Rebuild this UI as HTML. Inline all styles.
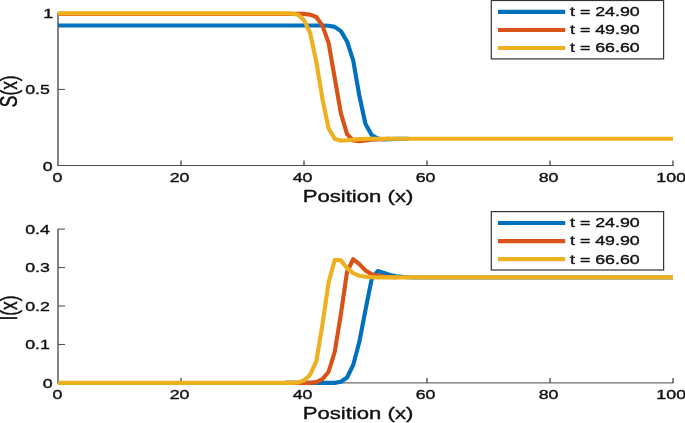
<!DOCTYPE html>
<html><head><meta charset="utf-8"><title>Plot</title>
<style>html,body{margin:0;padding:0;background:#fff;overflow:hidden}svg{display:block}</style></head>
<body>
<svg width="685" height="423" viewBox="0 0 685 423" font-family="'Liberation Sans', sans-serif" fill="#111111">
<style>text{stroke:#111111;stroke-width:0.38px;stroke-linejoin:round}</style>
<rect width="685" height="423" fill="#fff"/>
<line x1="58.00" y1="12.80" x2="58.00" y2="166.00" stroke="#4a4a4a" stroke-width="1.35"/>
<line x1="57.40" y1="165.50" x2="673.60" y2="165.50" stroke="#4a4a4a" stroke-width="1"/>
<text transform="translate(57.40,182.10) scale(1.300,1)" text-anchor="middle" font-size="13.70">0</text>
<line x1="181.00" y1="165.50" x2="181.00" y2="160.50" stroke="#4a4a4a" stroke-width="1.35"/>
<text transform="translate(179.60,182.10) scale(1.300,1)" text-anchor="middle" font-size="13.70">20</text>
<line x1="304.00" y1="165.50" x2="304.00" y2="160.50" stroke="#4a4a4a" stroke-width="1.35"/>
<text transform="translate(302.60,182.10) scale(1.300,1)" text-anchor="middle" font-size="13.70">40</text>
<line x1="427.00" y1="165.50" x2="427.00" y2="160.50" stroke="#4a4a4a" stroke-width="1.35"/>
<text transform="translate(425.60,182.10) scale(1.300,1)" text-anchor="middle" font-size="13.70">60</text>
<line x1="550.00" y1="165.50" x2="550.00" y2="160.50" stroke="#4a4a4a" stroke-width="1.35"/>
<text transform="translate(548.60,182.10) scale(1.300,1)" text-anchor="middle" font-size="13.70">80</text>
<line x1="673.00" y1="165.50" x2="673.00" y2="160.50" stroke="#4a4a4a" stroke-width="1.35"/>
<text transform="translate(671.20,182.10) scale(1.300,1)" text-anchor="middle" font-size="13.70">100</text>
<text transform="translate(52.70,170.90) scale(1.300,1)" text-anchor="end" font-size="13.70">0</text>
<line x1="58.00" y1="89.40" x2="65.00" y2="89.40" stroke="#4a4a4a" stroke-width="1"/>
<text transform="translate(49.90,94.10) scale(1.300,1)" text-anchor="end" font-size="13.70">0.5</text>
<line x1="58.00" y1="13.30" x2="65.00" y2="13.30" stroke="#4a4a4a" stroke-width="1"/>
<text transform="translate(53.20,18.00) scale(1.300,1)" text-anchor="end" font-size="13.70">1</text>
<polyline points="58.00,25.52 64.15,25.52 70.30,25.52 76.45,25.52 82.60,25.52 88.75,25.52 94.90,25.52 101.05,25.52 107.20,25.52 113.35,25.52 119.50,25.52 125.65,25.52 131.80,25.52 137.95,25.52 144.10,25.52 150.25,25.52 156.40,25.52 162.55,25.52 168.70,25.52 174.85,25.52 181.00,25.52 187.15,25.52 193.30,25.52 199.45,25.52 205.60,25.52 211.75,25.52 217.90,25.52 224.05,25.52 230.20,25.52 236.35,25.52 242.50,25.52 248.65,25.52 254.80,25.52 260.95,25.52 267.10,25.52 273.25,25.52 279.40,25.52 285.55,25.52 291.70,25.52 297.85,25.52 304.00,25.52 310.15,25.52 316.30,25.52 322.45,25.52 328.60,25.70 334.75,26.85 340.90,31.11 347.05,41.46 353.20,60.48 359.35,95.79 365.50,123.95 371.65,135.06 377.80,138.56 383.95,139.44 390.10,139.17 396.25,138.76 402.40,138.71 408.55,138.71" fill="none" stroke="#0072BD" stroke-width="4.15" stroke-linejoin="round" stroke-linecap="butt"/>
<polyline points="58.00,13.83 64.15,13.83 70.30,13.83 76.45,13.83 82.60,13.83 88.75,13.83 94.90,13.83 101.05,13.83 107.20,13.83 113.35,13.83 119.50,13.83 125.65,13.83 131.80,13.83 137.95,13.83 144.10,13.83 150.25,13.83 156.40,13.83 162.55,13.83 168.70,13.83 174.85,13.83 181.00,13.83 187.15,13.83 193.30,13.83 199.45,13.83 205.60,13.83 211.75,13.83 217.90,13.83 224.05,13.83 230.20,13.83 236.35,13.83 242.50,13.83 248.65,13.83 254.80,13.83 260.95,13.83 267.10,13.83 273.25,13.83 279.40,13.83 285.55,13.83 291.70,13.83 297.85,13.83 304.00,13.94 310.15,14.64 316.30,17.00 322.45,25.63 328.60,42.83 334.75,78.14 340.90,113.45 347.05,134.15 353.20,140.54 359.35,141.15 365.50,140.54 371.65,139.78 377.80,139.32 383.95,139.02 390.10,138.71" fill="none" stroke="#D95319" stroke-width="4.15" stroke-linejoin="round" stroke-linecap="butt"/>
<polyline points="58.00,13.30 64.15,13.30 70.30,13.30 76.45,13.30 82.60,13.30 88.75,13.30 94.90,13.30 101.05,13.30 107.20,13.30 113.35,13.30 119.50,13.30 125.65,13.30 131.80,13.30 137.95,13.30 144.10,13.30 150.25,13.30 156.40,13.30 162.55,13.30 168.70,13.30 174.85,13.30 181.00,13.30 187.15,13.30 193.30,13.30 199.45,13.30 205.60,13.30 211.75,13.30 217.90,13.30 224.05,13.30 230.20,13.30 236.35,13.30 242.50,13.30 248.65,13.30 254.80,13.30 260.95,13.30 267.10,13.30 273.25,13.30 279.40,13.30 285.55,13.30 291.70,13.60 297.85,14.67 304.00,20.00 310.15,33.24 316.30,61.70 322.45,98.84 328.60,128.47 334.75,138.83 340.90,140.69 347.05,140.23 353.20,139.63 359.35,139.17 365.50,138.87 371.65,138.71 377.80,138.71 383.95,138.71 390.10,138.71 396.25,138.71 402.40,138.71 408.55,138.71 414.70,138.71 420.85,138.71 427.00,138.71 433.15,138.71 439.30,138.71 445.45,138.71 451.60,138.71 457.75,138.71 463.90,138.71 470.05,138.71 476.20,138.71 482.35,138.71 488.50,138.71 494.65,138.71 500.80,138.71 506.95,138.71 513.10,138.71 519.25,138.71 525.40,138.71 531.55,138.71 537.70,138.71 543.85,138.71 550.00,138.71 556.15,138.71 562.30,138.71 568.45,138.71 574.60,138.71 580.75,138.71 586.90,138.71 593.05,138.71 599.20,138.71 605.35,138.71 611.50,138.71 617.65,138.71 623.80,138.71 629.95,138.71 636.10,138.71 642.25,138.71 648.40,138.71 654.55,138.71 660.70,138.71 666.85,138.71 673.00,138.71" fill="none" stroke="#EDB120" stroke-width="4.15" stroke-linejoin="round" stroke-linecap="butt"/>
<text transform="translate(358.00,201.90) scale(1.280,1)" text-anchor="middle" font-size="17.30">Position (x)</text>
<text transform="translate(17.0,91.3) rotate(-90) scale(1,1.330)" text-anchor="middle" font-size="17.30">S(x)</text>
<line x1="58.00" y1="228.64" x2="58.00" y2="383.40" stroke="#4a4a4a" stroke-width="1.35"/>
<line x1="57.40" y1="382.90" x2="673.60" y2="382.90" stroke="#4a4a4a" stroke-width="1"/>
<text transform="translate(57.40,399.20) scale(1.300,1)" text-anchor="middle" font-size="13.70">0</text>
<line x1="181.00" y1="382.90" x2="181.00" y2="377.90" stroke="#4a4a4a" stroke-width="1.35"/>
<text transform="translate(179.60,399.20) scale(1.300,1)" text-anchor="middle" font-size="13.70">20</text>
<line x1="304.00" y1="382.90" x2="304.00" y2="377.90" stroke="#4a4a4a" stroke-width="1.35"/>
<text transform="translate(302.60,399.20) scale(1.300,1)" text-anchor="middle" font-size="13.70">40</text>
<line x1="427.00" y1="382.90" x2="427.00" y2="377.90" stroke="#4a4a4a" stroke-width="1.35"/>
<text transform="translate(425.60,399.20) scale(1.300,1)" text-anchor="middle" font-size="13.70">60</text>
<line x1="550.00" y1="382.90" x2="550.00" y2="377.90" stroke="#4a4a4a" stroke-width="1.35"/>
<text transform="translate(548.60,399.20) scale(1.300,1)" text-anchor="middle" font-size="13.70">80</text>
<line x1="673.00" y1="382.90" x2="673.00" y2="377.90" stroke="#4a4a4a" stroke-width="1.35"/>
<text transform="translate(671.20,399.20) scale(1.300,1)" text-anchor="middle" font-size="13.70">100</text>
<text transform="translate(52.70,387.90) scale(1.300,1)" text-anchor="end" font-size="13.70">0</text>
<line x1="58.00" y1="344.46" x2="65.00" y2="344.46" stroke="#4a4a4a" stroke-width="1"/>
<text transform="translate(49.90,349.16) scale(1.300,1)" text-anchor="end" font-size="13.70">0.1</text>
<line x1="58.00" y1="306.02" x2="65.00" y2="306.02" stroke="#4a4a4a" stroke-width="1"/>
<text transform="translate(49.90,310.72) scale(1.300,1)" text-anchor="end" font-size="13.70">0.2</text>
<line x1="58.00" y1="267.58" x2="65.00" y2="267.58" stroke="#4a4a4a" stroke-width="1"/>
<text transform="translate(49.90,272.28) scale(1.300,1)" text-anchor="end" font-size="13.70">0.3</text>
<line x1="58.00" y1="229.14" x2="65.00" y2="229.14" stroke="#4a4a4a" stroke-width="1"/>
<text transform="translate(49.90,233.84) scale(1.300,1)" text-anchor="end" font-size="13.70">0.4</text>
<polyline points="285.55,382.90 291.70,382.90 297.85,382.90 304.00,382.90 310.15,382.90 316.30,382.90 322.45,382.90 328.60,382.90 334.75,382.90 340.90,381.75 347.05,377.52 353.20,365.03 359.35,341.77 365.50,309.86 371.65,279.11 377.80,271.08 383.95,272.96 390.10,275.08 396.25,276.23 402.40,276.88 408.55,277.27 414.70,277.46 420.85,277.46 427.00,277.46 433.15,277.46 439.30,277.46 445.45,277.46 451.60,277.46 457.75,277.46 463.90,277.46 470.05,277.46 476.20,277.46 482.35,277.46 488.50,277.46 494.65,277.46 500.80,277.46 506.95,277.46 513.10,277.46 519.25,277.46 525.40,277.46 531.55,277.46 537.70,277.46 543.85,277.46 550.00,277.46 556.15,277.46 562.30,277.46 568.45,277.46 574.60,277.46 580.75,277.46 586.90,277.46 593.05,277.46 599.20,277.46 605.35,277.46 611.50,277.46 617.65,277.46 623.80,277.46 629.95,277.46 636.10,277.46 642.25,277.46 648.40,277.46 654.55,277.46 660.70,277.46 666.85,277.46 673.00,277.46" fill="none" stroke="#0072BD" stroke-width="4.15" stroke-linejoin="round" stroke-linecap="butt"/>
<polyline points="285.55,382.90 291.70,382.90 297.85,382.90 304.00,382.90 310.15,382.90 316.30,382.13 322.45,379.06 328.60,371.75 334.75,351.76 340.90,314.09 347.05,271.81 353.20,259.24 359.35,264.12 365.50,270.46 371.65,274.31 377.80,275.84 383.95,276.61 390.10,277.00 396.25,277.31" fill="none" stroke="#D95319" stroke-width="4.15" stroke-linejoin="round" stroke-linecap="butt"/>
<polyline points="58.00,382.90 64.15,382.90 70.30,382.90 76.45,382.90 82.60,382.90 88.75,382.90 94.90,382.90 101.05,382.90 107.20,382.90 113.35,382.90 119.50,382.90 125.65,382.90 131.80,382.90 137.95,382.90 144.10,382.90 150.25,382.90 156.40,382.90 162.55,382.90 168.70,382.90 174.85,382.90 181.00,382.90 187.15,382.90 193.30,382.90 199.45,382.90 205.60,382.90 211.75,382.90 217.90,382.90 224.05,382.90 230.20,382.90 236.35,382.90 242.50,382.90 248.65,382.90 254.80,382.90 260.95,382.90 267.10,382.90 273.25,382.90 279.40,382.90 285.55,382.90 291.70,382.90 297.85,382.52 304.00,380.59 310.15,374.64 316.30,361.37 322.45,324.47 328.60,282.57 334.75,259.82 340.90,260.20 347.05,268.16 353.20,273.15 359.35,275.81 365.50,276.81 371.65,277.15 377.80,277.31 383.95,277.31 390.10,277.31 396.25,277.31 402.40,277.31 408.55,277.31 414.70,277.31 420.85,277.31 427.00,277.31 433.15,277.31 439.30,277.31 445.45,277.31 451.60,277.31 457.75,277.31 463.90,277.31 470.05,277.31 476.20,277.31 482.35,277.31 488.50,277.31 494.65,277.31 500.80,277.31 506.95,277.31 513.10,277.31 519.25,277.31 525.40,277.31 531.55,277.31 537.70,277.31 543.85,277.31 550.00,277.31 556.15,277.31 562.30,277.31 568.45,277.31 574.60,277.31 580.75,277.31 586.90,277.31 593.05,277.31 599.20,277.31 605.35,277.31 611.50,277.31 617.65,277.31 623.80,277.31 629.95,277.31 636.10,277.31 642.25,277.31 648.40,277.31 654.55,277.31 660.70,277.31 666.85,277.31 673.00,277.31" fill="none" stroke="#EDB120" stroke-width="4.15" stroke-linejoin="round" stroke-linecap="butt"/>
<text transform="translate(358.00,419.00) scale(1.280,1)" text-anchor="middle" font-size="17.30">Position (x)</text>
<text transform="translate(17.0,308.0) rotate(-90) scale(1,1.330)" text-anchor="middle" font-size="17.30">I(x)</text>
<rect x="491.30" y="0.50" width="172.30" height="58.40" fill="#fff" stroke="#333" stroke-width="1.2"/>
<line x1="497.9" y1="11.90" x2="565.2" y2="11.90" stroke="#0072BD" stroke-width="4.15"/>
<text transform="translate(570.00,16.30) scale(1.300,1)" text-anchor="start" font-size="13.70">t = 24.90</text>
<line x1="497.9" y1="29.95" x2="565.2" y2="29.95" stroke="#D95319" stroke-width="4.15"/>
<text transform="translate(570.00,34.35) scale(1.300,1)" text-anchor="start" font-size="13.70">t = 49.90</text>
<line x1="497.9" y1="48.00" x2="565.2" y2="48.00" stroke="#EDB120" stroke-width="4.15"/>
<text transform="translate(570.00,52.40) scale(1.300,1)" text-anchor="start" font-size="13.70">t = 66.60</text>
<rect x="491.30" y="211.60" width="172.30" height="58.40" fill="#fff" stroke="#333" stroke-width="1.2"/>
<line x1="497.9" y1="223.00" x2="565.2" y2="223.00" stroke="#0072BD" stroke-width="4.15"/>
<text transform="translate(570.00,227.40) scale(1.300,1)" text-anchor="start" font-size="13.70">t = 24.90</text>
<line x1="497.9" y1="241.05" x2="565.2" y2="241.05" stroke="#D95319" stroke-width="4.15"/>
<text transform="translate(570.00,245.45) scale(1.300,1)" text-anchor="start" font-size="13.70">t = 49.90</text>
<line x1="497.9" y1="259.10" x2="565.2" y2="259.10" stroke="#EDB120" stroke-width="4.15"/>
<text transform="translate(570.00,263.50) scale(1.300,1)" text-anchor="start" font-size="13.70">t = 66.60</text>
</svg>
</body></html>
